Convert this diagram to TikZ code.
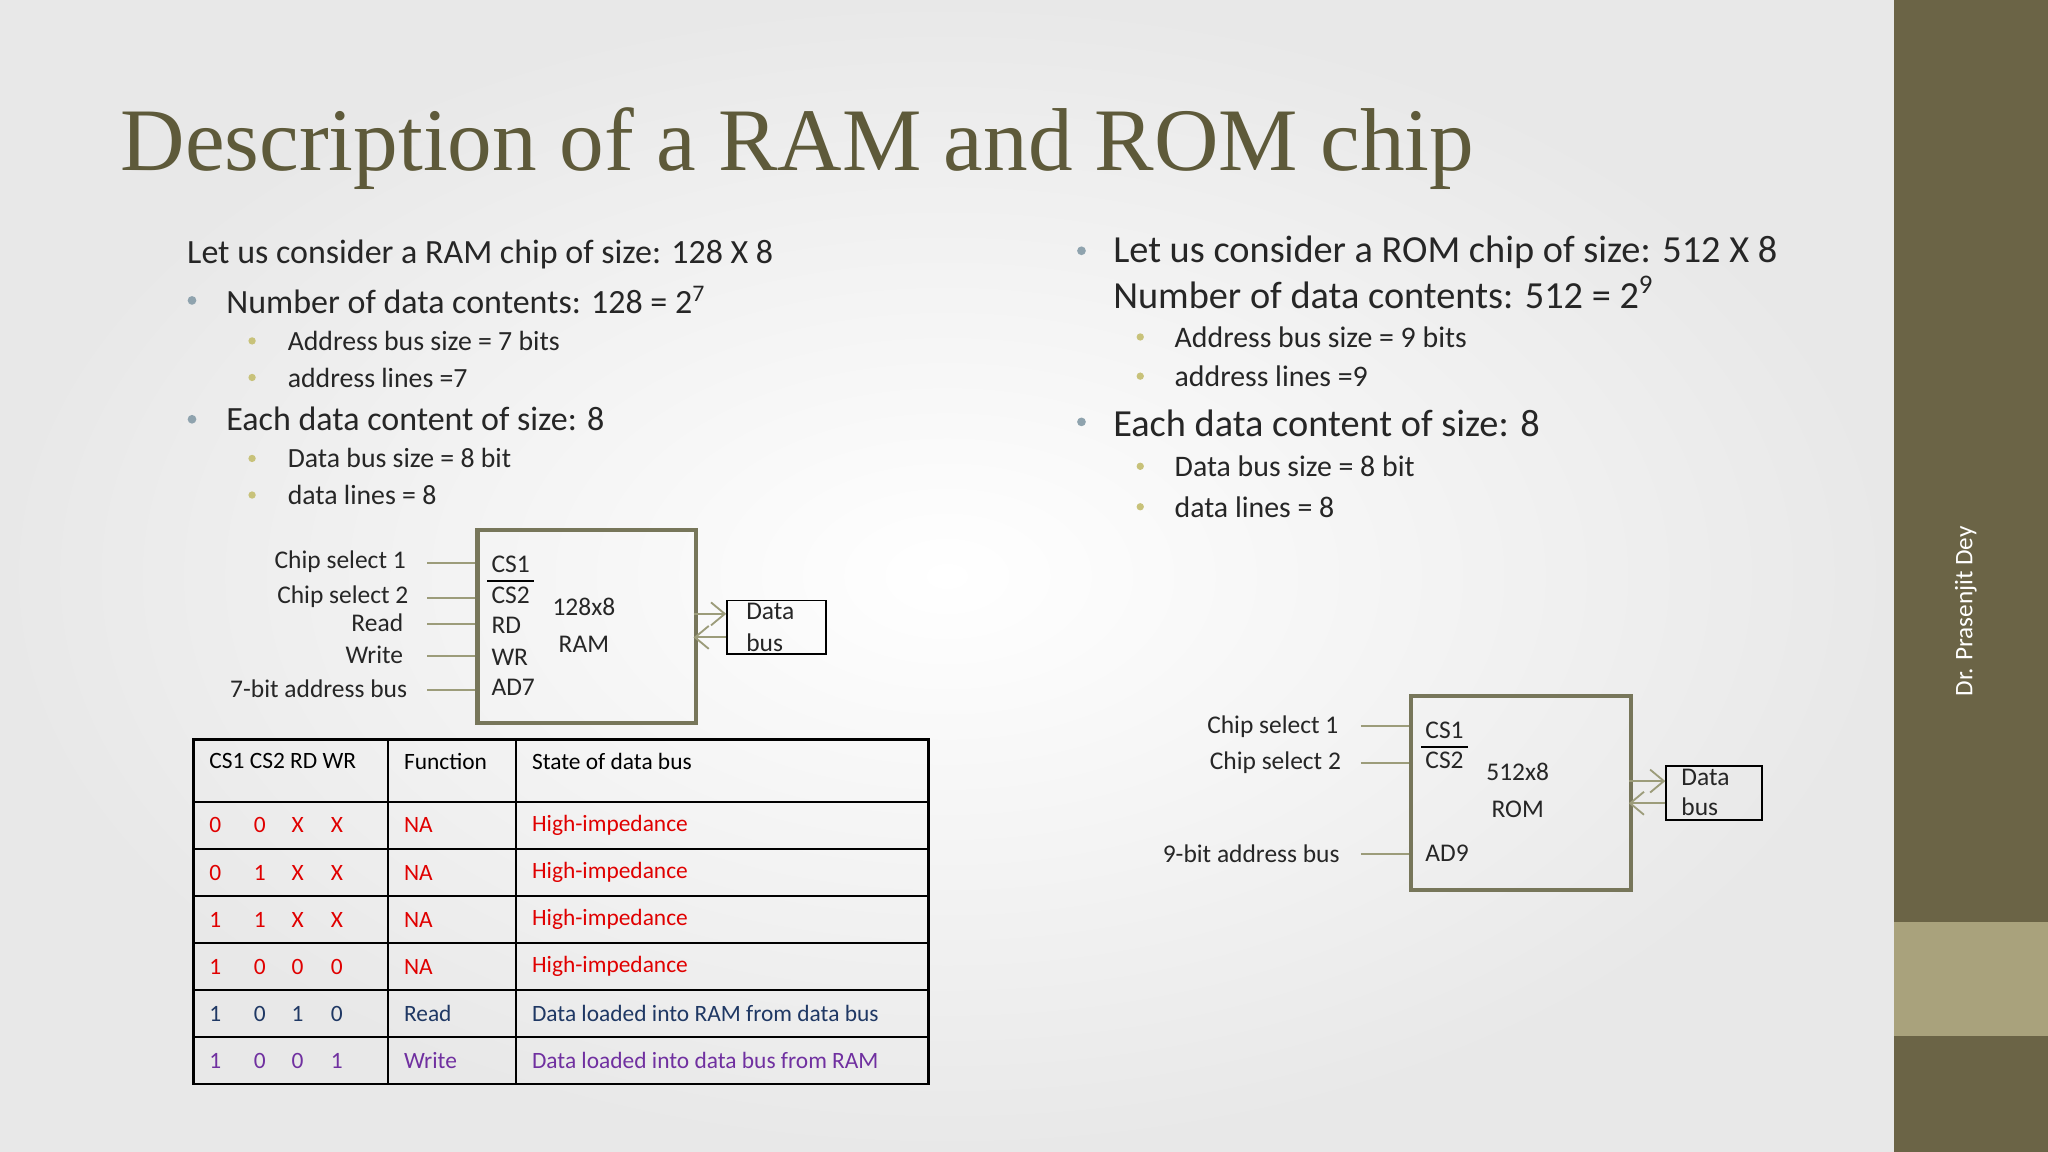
\documentclass[tikz,border=0pt]{standalone}
\usepackage{fontspec}
\setmainfont{Carlito}
\newfontfamily\titlefont{Liberation Serif}
\usetikzlibrary{arrows.meta}
\definecolor{olive}{HTML}{6B6446}
\definecolor{lolive}{HTML}{A9A27C}
\definecolor{ttl}{HTML}{5E5A3A}
\definecolor{wire}{HTML}{9C9C7A}
\definecolor{boxc}{HTML}{77765A}
\definecolor{b1}{HTML}{8FA3AE}
\definecolor{b2}{HTML}{C8C27A}
\definecolor{rd}{HTML}{E00000}
\definecolor{nv}{HTML}{1F3864}
\definecolor{pu}{HTML}{7030A0}
\begin{document}
\begin{tikzpicture}[x=0.02cm,y=-0.02cm,
  t1/.style={anchor=west,font=\fontsize{14.8}{17}\selectfont,text=black!85,inner sep=0},
  t2/.style={anchor=west,font=\fontsize{12.1}{14}\selectfont,text=black!85,inner sep=0},
  u1/.style={anchor=west,font=\fontsize{16.7}{19}\selectfont,text=black!85,inner sep=0},
  u2/.style={anchor=west,font=\fontsize{13}{15}\selectfont,text=black!85,inner sep=0},
  lab/.style={font=\fontsize{11.1}{13}\selectfont,text=black!85,inner sep=0},
  tb/.style={anchor=west,font=\fontsize{10.2}{12}\selectfont,inner sep=0},
  wr/.style={wire,line width=0.8pt},
  dot1/.style={circle,fill=b1,inner sep=0,minimum size=3.8pt},
  dot2/.style={circle,fill=b2,inner sep=0,minimum size=3.2pt},
  chip/.style={draw=boxc,line width=1.8pt},
  arr/.style={wire,line width=0.8pt,-{Straight Barb[length=6pt,width=10pt]}}]
\useasboundingbox (0,0) rectangle (1568,882);
\shade[inner color=white,outer color=black!9] (0,0) rectangle (1450,882);
\fill[olive] (1450,0) rectangle (1568,882);
\fill[lolive] (1450,706) rectangle (1568,793);
\node[rotate=90,text=white,font=\fontsize{11}{13}\selectfont] (au) at (1505,468) {Dr. Prasenjit Dey};
\node[anchor=west,text=ttl,font=\titlefont\fontsize{38.9}{45}\selectfont,inner sep=0] (title) at (92,114) {Description of a RAM and ROM chip};
% left text
\node[t1] (l0) at (143,195) {Let us consider a RAM chip of size: 128 X 8};
\node[dot1] (d1) at (147,230) {}; \node[t1] (l1) at (173,230) {Number of data contents: 128 = 2\textsuperscript{7}};
\node[dot2] (d2) at (193,261) {}; \node[t2] (l2) at (220,261) {Address bus size = 7 bits};
\node[dot2] (d3) at (193,289) {}; \node[t2] (l3) at (220,289) {address lines =7};
\node[dot1] (d4) at (147,321) {}; \node[t1] (l4) at (173,321) {Each data content of size: 8};
\node[dot2] (d5) at (193,351) {}; \node[t2] (l5) at (220,351) {Data bus size = 8 bit};
\node[dot2] (d6) at (193,379) {}; \node[t2] (l6) at (220,379) {data lines = 8};
% right text
\node[dot1] (e1) at (828,192) {}; \node[u1] (r1) at (852,193) {Let us consider a ROM chip of size: 512 X 8};
\node[u1] (r1b) at (852,224) {Number of data contents: 512 = 2\textsuperscript{9}};
\node[dot2] (e2) at (873,258) {}; \node[u2] (r2) at (899,258) {Address bus size = 9 bits};
\node[dot2] (e3) at (873,288) {}; \node[u2] (r3) at (899,288) {address lines =9};
\node[dot1] (e4) at (828,323) {}; \node[u1] (r4) at (852,324) {Each data content of size: 8};
\node[dot2] (e5) at (873,357) {}; \node[u2] (r5) at (899,357) {Data bus size = 8 bit};
\node[dot2] (e6) at (873,388) {}; \node[u2] (r6) at (899,388) {data lines = 8};
% RAM chip
\node[chip,minimum width=167*0.02cm,minimum height=148*0.02cm,anchor=north west] (ram) at (364,404) {};
\node[lab,anchor=west] (pcs1) at (376,432) {CS1};
\node[lab,anchor=west] (pcs2) at (376,456) {CS2};
\draw[line width=0.7pt] (373,445) -- (409,445);
\node[lab,anchor=west] (prd) at (376,479) {RD};
\node[lab,anchor=west] (pwr) at (376,503) {WR};
\node[lab,anchor=west] (pad) at (376,526) {AD7};
\node[lab,align=center] (rl) at (447,479) {128x8\\[3pt]RAM};
\foreach \n/\t/\y/\xe in {a/Chip select 1/430/311,b/Chip select 2/457/313,c/Read/477/309,d/Write/501/309,e/7-bit address bus/527/312}{
  \node[lab,anchor=east] (lr\n) at (\xe,\y) {\t};
  \coordinate (wr\n) at (327,\y+1);
  \draw[wr] (wr\n) -- (wr\n -| ram.west);
}
\node[draw,line width=0.8pt,minimum width=76*0.02cm,minimum height=41*0.02cm,anchor=north west] (db1) at (556,459) {};
\node[lab,anchor=west] (db1t) at (571,468) {Data};
\node[lab,anchor=west] (db1b) at (571,492) {bus};
\coordinate (ra1) at (531,470); \coordinate (ra2) at (531,488);
\draw[arr] (ra1) -- (ra1 -| db1.west);
\draw[arr] (ra2 -| db1.west) -- (ra2);
% ROM chip
\node[chip,minimum width=168*0.02cm,minimum height=149*0.02cm,anchor=north west] (rom) at (1079,531) {};
\node[lab,anchor=west] (qcs1) at (1091,559) {CS1};
\node[lab,anchor=west] (qcs2) at (1091,582) {CS2};
\draw[line width=0.7pt] (1088,572) -- (1124,572);
\node[lab,anchor=west] (qad) at (1091,653) {AD9};
\node[lab,align=center] (roml) at (1162,605) {512x8\\[3pt]ROM};
\foreach \n/\t/\y/\xe in {a/Chip select 1/556/1025,b/Chip select 2/584/1027,c/9-bit address bus/654/1026}{
  \node[lab,anchor=east] (lq\n) at (\xe,\y) {\t};
  \coordinate (wq\n) at (1042,\y);
  \draw[wr] (wq\n) -- (wq\n -| rom.west);
}
\node[draw,line width=0.8pt,minimum width=73*0.02cm,minimum height=41*0.02cm,anchor=north west] (db2) at (1275,586) {};
\node[lab,anchor=west] (db2t) at (1287,595) {Data};
\node[lab,anchor=west] (db2b) at (1287,618) {bus};
\coordinate (qa1) at (1247,598); \coordinate (qa2) at (1247,615);
\draw[arr] (qa1) -- (qa1 -| db2.west);
\draw[arr] (qa2 -| db2.west) -- (qa2);
% table
\draw[line width=1.2pt] (148,566) rectangle (711,830);
\foreach \y in {614,650,686,722,758,794} \draw[line width=1.2pt] (148,\y) -- (711,\y);
\foreach \x in {297,395} \draw[line width=1.2pt] (\x,566) -- (\x,830);
\node[tb] (h1) at (160,583) {CS1 CS2 RD WR};
\node[tb] (h2) at (309,583) {Function};
\node[tb] (h3) at (407,583) {State of data bus};
\foreach \a/\b/\c/\d/\f/\s/\col/\y in {0/0/X/X/NA/High-impedance/rd/632,0/1/X/X/NA/High-impedance/rd/668,1/1/X/X/NA/High-impedance/rd/704,1/0/0/0/NA/High-impedance/rd/740,1/0/1/0/Read/Data loaded into RAM from data bus/nv/776,1/0/0/1/Write/Data loaded into data bus from RAM/pu/812}{
  \node[tb,text=\col] at (160,\y) {\a};
  \node[tb,text=\col] at (194,\y) {\b};
  \node[tb,text=\col] at (223,\y) {\c};
  \node[tb,text=\col] at (253,\y) {\d};
  \node[tb,text=\col] at (309,\y) {\f};
  \node[tb,text=\col] at (407,\y) {\s};
}
\end{tikzpicture}
\end{document}
